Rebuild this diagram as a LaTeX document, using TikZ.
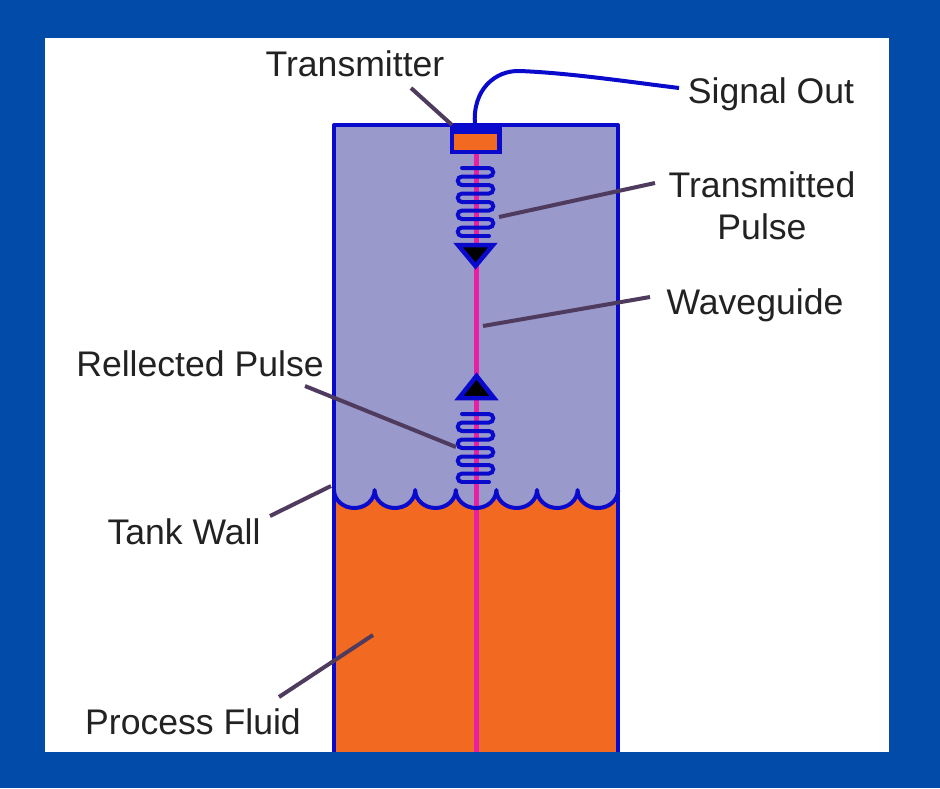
\documentclass[tikz,border=0pt]{standalone}
\usepackage{fontspec}
\setmainfont{Liberation Sans}
\definecolor{FrameBlue}{HTML}{024BA8}
\definecolor{WallBlue}{HTML}{0A0ACD}
\definecolor{VapourFill}{HTML}{9999CC}
\definecolor{FluidFill}{HTML}{F26A21}
\definecolor{GuidePink}{HTML}{E61FA5}
\definecolor{LeaderGrey}{HTML}{4F3B5E}
\definecolor{LabelInk}{HTML}{222222}
\newcommand{\Coil}[2]{
\foreach \row in {0,1,2,3}{
\draw[Coilline] (#1-14,#2+\row*17) -- (#1+13,#2+\row*17) arc (-90:90:4.25) -- (#1-14,#2+\row*17+8.5) arc (270:90:4.25);
}
\draw[Coilline] (#1-14,#2+68) -- (#1+13,#2+68);
}
\newcommand{\Scallops}{
(334,490) arc (180:0:20.3 and 18) arc (180:0:20.3 and 18)
  arc (180:0:20.3 and 18) arc (180:0:20.3 and 18) arc (180:0:20.3 and 18)
  arc (180:0:20.3 and 18) arc (180:0:20.3 and 18)
}
\begin{document}
\begin{tikzpicture}
[
x=1pt,
y=-1pt,
Background/.style={draw=none,fill=FrameBlue},
Sheet/.style={draw=none,fill=white},
Wall/.style={draw=WallBlue,line width=4pt,line join=round},
Guide/.style={draw=GuidePink,line width=5pt},
Coilline/.style={draw=WallBlue,line width=4pt,line cap=round},
Pulsetip/.style={draw=WallBlue,fill=black,line width=4.5pt,line join=miter},
Leader/.style={draw=LeaderGrey,line width=4pt},
Label/.style={text=LabelInk,font=\fontsize{35.6}{42}\selectfont,inner sep=0pt,align=center},
Housing/.style={rectangle,fill=WallBlue,minimum width=52pt,minimum height=31pt,inner sep=0pt},
Housingcore/.style={rectangle,fill=FluidFill,minimum width=43pt,minimum height=16pt,inner sep=0pt},
]

\useasboundingbox (0,0) rectangle (940,788);
\fill[Background] (0,0) rectangle (940,788);
\fill[Sheet] (45,38) rectangle (889,752);

% tank contents
\fill[FluidFill] (334,490) rectangle (618,752);
\fill[VapourFill] (334,125) rectangle (618,490);
\fill[VapourFill] \Scallops -- cycle;

% waveguide
\coordinate (guidetop) at (476,150);
\coordinate (guidebottom) at (476,752);
\draw[Guide] (guidetop) -- (guidebottom);

% surface of the fluid
\draw[Wall] \Scallops;

% tank wall
\draw[Wall] (334,752) -- (334,125) -- (618,125) -- (618,752);

% coils
\Coil{476}{168}
\Coil{476}{414}

% arrow heads
\draw[Pulsetip] (458,245) -- (493,245) -- (475.5,266) -- cycle;
\draw[Pulsetip] (459,398) -- (494,398) -- (476.5,376) -- cycle;

% transmitter
\node[Housing] (housing) at (476,138.5) {};
\node[Housingcore] (housingcore) at (475.5,141.5) {};

% labels
\node[Label] (transmitter) at (355,64) {Transmitter};
\node[Label] (signalout) at (771,94) {Signal Out};
\node[Label] (transmitted) at (762,206) {Transmitted\\[0pt]Pulse};
\node[Label] (waveguide) at (755,305) {Waveguide};
\node[Label] (reflected) at (200,364) {Rellected Pulse};
\node[Label] (tankwall) at (184,532) {Tank Wall};
\node[Label] (fluid) at (193,722) {Process Fluid};

% leaders
\coordinate (transmitterstart) at (411,88);
\coordinate (transmitterend) at (452,125);
\coordinate (pulsestart) at (655,183);
\coordinate (pulseend) at (499,217);
\coordinate (guidestart) at (650,297);
\coordinate (guideend) at (483,326);
\coordinate (reflectedstart) at (305,386);
\coordinate (reflectedend) at (456,447);
\coordinate (wallstart) at (270,516);
\coordinate (wallend) at (331,486);
\coordinate (fluidstart) at (279,697);
\coordinate (fluidend) at (373,635);
\draw[Leader] (transmitterstart) -- (transmitterend);
\draw[Leader] (pulsestart) -- (pulseend);
\draw[Leader] (guidestart) -- (guideend);
\draw[Leader] (reflectedstart) -- (reflectedend);
\draw[Leader] (wallstart) -- (wallend);
\draw[Leader] (fluidstart) -- (fluidend);

% signal cable
\coordinate (cablestart) at (475,125);
\coordinate (cableend) at (679,88);
\draw[Wall] (cablestart) .. controls (472,90) and (495,70) .. (520,71) .. controls (570,73) and (630,82) .. (cableend);

\end{tikzpicture}
\end{document}
